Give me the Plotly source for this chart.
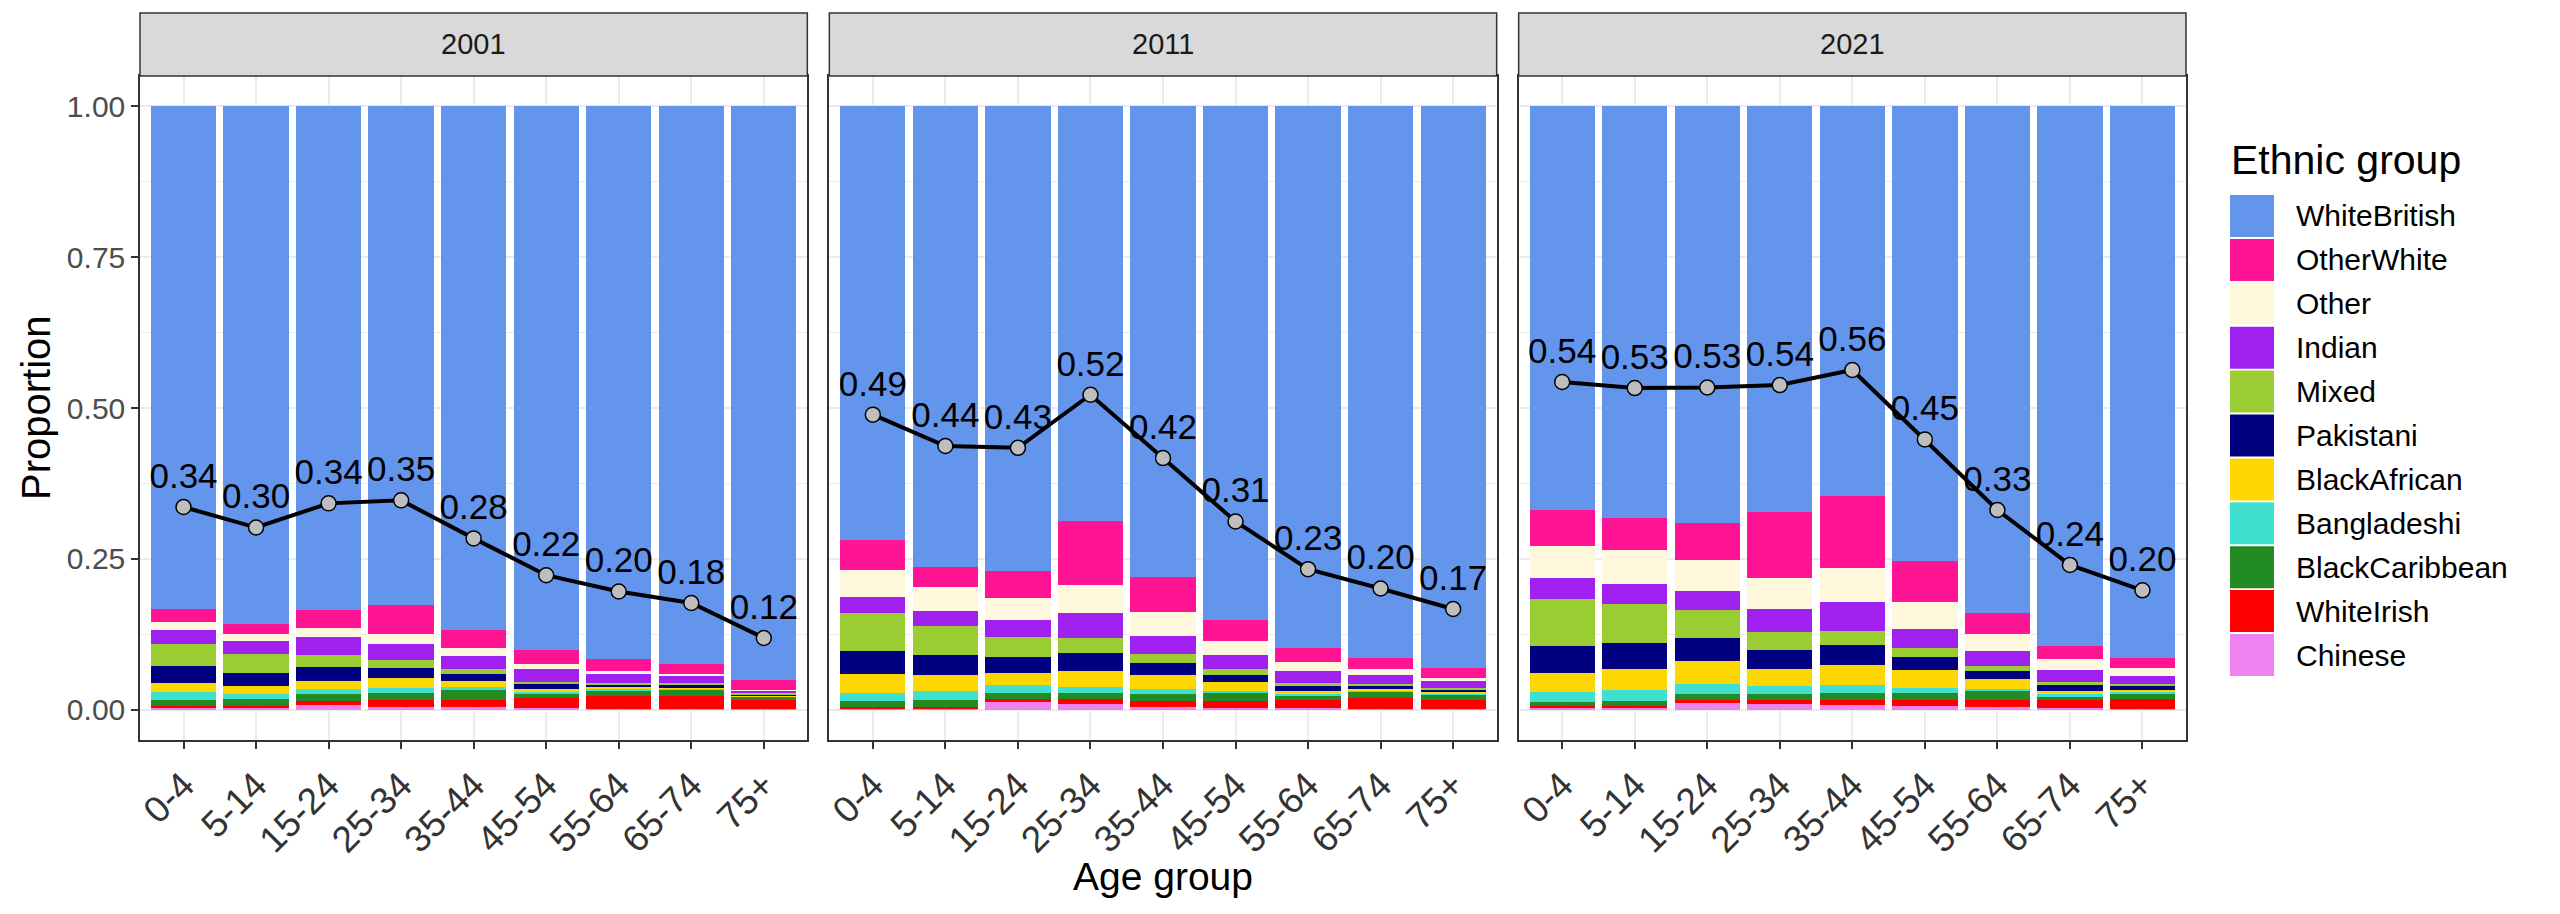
import plotly.graph_objects as go
from plotly.subplots import make_subplots

# ---------------- data ----------------
AGE_GROUPS = ["0-4", "5-14", "15-24", "25-34", "35-44", "45-54", "55-64", "65-74", "75+"]
YEARS = ["2001", "2011", "2021"]
GROUPS = ["WhiteBritish", "OtherWhite", "Other", "Indian", "Mixed", "Pakistani",
          "BlackAfrican", "Bangladeshi", "BlackCaribbean", "WhiteIrish", "Chinese"]
COLORS = ["#6495ED", "#FF1493", "#FFF8DC", "#A020F0", "#9ACD32", "#000080",
          "#FFD700", "#40E0D0", "#228B22", "#FF0000", "#EE82EE"]

# 2001
white_british_2001 = [0.834, 0.857, 0.834, 0.827, 0.868, 0.901, 0.916, 0.924, 0.951]
other_white_2001 = [0.0204, 0.0166, 0.031, 0.0475, 0.0298, 0.0232, 0.0204, 0.016, 0.016]
other_2001 = [0.0143, 0.0116, 0.0149, 0.0171, 0.0138, 0.0088, 0.005, 0.0033, 0.0017]
indian_2001 = [0.022, 0.0226, 0.029, 0.026, 0.0215, 0.021, 0.0138, 0.011, 0.0044]
mixed_2001 = [0.0375, 0.0304, 0.0193, 0.0127, 0.0083, 0.0039, 0.0022, 0.0028, 0.0017]
pakistani_2001 = [0.0276, 0.022, 0.0243, 0.0177, 0.0105, 0.0077, 0.005, 0.0055, 0.0022]
black_african_2001 = [0.0155, 0.0132, 0.0132, 0.0155, 0.011, 0.0061, 0.0028, 0.0017, 0.0011]
bangladeshi_2001 = [0.0121, 0.0088, 0.0088, 0.0083, 0.0044, 0.0017, 0.0022, 0.0011, 0.0006]
black_caribbean_2001 = [0.0099, 0.011, 0.0116, 0.0116, 0.0166, 0.0083, 0.0094, 0.011, 0.0044]
white_irish_2001 = [0.0039, 0.0033, 0.0066, 0.0121, 0.0121, 0.0155, 0.0215, 0.022, 0.016]
chinese_2001 = [0.003, 0.0033, 0.0072, 0.0044, 0.0044, 0.0033, 0.0017, 0.0011, 0.0011]
diversity_2001 = [0.336, 0.302, 0.342, 0.347, 0.284, 0.223, 0.196, 0.177, 0.119]

# 2011
white_british_2011 = [0.719, 0.764, 0.770, 0.687, 0.779, 0.852, 0.898, 0.914, 0.931]
other_white_2011 = [0.0486, 0.0331, 0.0447, 0.106, 0.0585, 0.0337, 0.0232, 0.0182, 0.0166]
other_2011 = [0.0447, 0.0397, 0.0353, 0.0464, 0.0392, 0.0237, 0.0149, 0.0088, 0.0055]
indian_2011 = [0.0281, 0.0237, 0.0281, 0.0419, 0.0298, 0.0226, 0.0199, 0.0155, 0.011]
mixed_2011 = [0.0629, 0.048, 0.0337, 0.0237, 0.0155, 0.0105, 0.005, 0.0033, 0.0022]
pakistani_2011 = [0.037, 0.0342, 0.0259, 0.0309, 0.0204, 0.011, 0.0083, 0.0055, 0.005]
black_african_2011 = [0.0315, 0.027, 0.021, 0.0254, 0.0232, 0.016, 0.0033, 0.0022, 0.0011]
bangladeshi_2011 = [0.0138, 0.0149, 0.0127, 0.011, 0.0083, 0.0022, 0.0044, 0.0022, 0.0017]
black_caribbean_2011 = [0.0094, 0.0105, 0.0099, 0.0099, 0.0116, 0.0138, 0.0077, 0.011, 0.0094]
white_irish_2011 = [0.0028, 0.0028, 0.005, 0.0083, 0.0099, 0.0116, 0.0127, 0.0171, 0.0155]
chinese_2011 = [0.0022, 0.0022, 0.0132, 0.0094, 0.0044, 0.0033, 0.0028, 0.0017, 0.0011]
diversity_2011 = [0.489, 0.437, 0.434, 0.522, 0.417, 0.312, 0.233, 0.201, 0.167]

# 2021
white_british_2021 = [0.669, 0.682, 0.690, 0.671, 0.646, 0.754, 0.839, 0.893, 0.914]
other_white_2021 = [0.059, 0.0524, 0.0618, 0.110, 0.119, 0.0668, 0.0359, 0.0215, 0.0166]
other_2021 = [0.0541, 0.0568, 0.0524, 0.0513, 0.0568, 0.0453, 0.0281, 0.0182, 0.0127]
indian_2021 = [0.0342, 0.0331, 0.0315, 0.0375, 0.0469, 0.0309, 0.0237, 0.0215, 0.0138]
mixed_2021 = [0.0778, 0.0646, 0.0464, 0.0309, 0.0232, 0.0155, 0.0094, 0.005, 0.0033]
pakistani_2021 = [0.0447, 0.043, 0.037, 0.0309, 0.0342, 0.0215, 0.0127, 0.0088, 0.0061]
black_african_2021 = [0.0315, 0.0353, 0.0381, 0.0287, 0.032, 0.0292, 0.016, 0.0061, 0.0028]
bangladeshi_2021 = [0.0171, 0.0171, 0.0166, 0.0127, 0.0143, 0.0083, 0.0039, 0.0028, 0.0028]
black_caribbean_2021 = [0.0066, 0.0088, 0.0099, 0.0099, 0.011, 0.0121, 0.0149, 0.0061, 0.0099]
white_irish_2021 = [0.0028, 0.0022, 0.005, 0.0072, 0.0083, 0.0099, 0.0121, 0.0132, 0.0166]
chinese_2021 = [0.0033, 0.0044, 0.0116, 0.0094, 0.0083, 0.0066, 0.0044, 0.0033, 0.0011]
diversity_2021 = [0.543, 0.533, 0.534, 0.538, 0.563, 0.448, 0.331, 0.240, 0.198]

Y_TICKS = [0, 0.25, 0.5, 0.75, 1.0]
Y_TICK_LABELS = ["0.00", "0.25", "0.50", "0.75", "1.00"]

series = {
    "2001": [white_british_2001, other_white_2001, other_2001, indian_2001, mixed_2001,
             pakistani_2001, black_african_2001, bangladeshi_2001, black_caribbean_2001,
             white_irish_2001, chinese_2001],
    "2011": [white_british_2011, other_white_2011, other_2011, indian_2011, mixed_2011,
             pakistani_2011, black_african_2011, bangladeshi_2011, black_caribbean_2011,
             white_irish_2011, chinese_2011],
    "2021": [white_british_2021, other_white_2021, other_2021, indian_2021, mixed_2021,
             pakistani_2021, black_african_2021, bangladeshi_2021, black_caribbean_2021,
             white_irish_2021, chinese_2021],
}
diversity = {"2001": diversity_2001, "2011": diversity_2011, "2021": diversity_2021}

# ---------------- layout geometry (pixels) ----------------
W, H = 2544, 898
ML, MR, MT, MB = 132, 366, 68, 166
PW = W - ML - MR
PH = H - MT - MB
FONT = "Liberation Sans, Arial, Helvetica, sans-serif"
GAP = 22 / PW


def px_x(px):
    return (px - ML) / PW


def px_y(py):
    return 1 - (py - MT) / PH


fig = make_subplots(rows=1, cols=3, horizontal_spacing=GAP, shared_yaxes=True)

for c, year in enumerate(YEARS, start=1):
    vals = series[year]
    # draw bottom first: reversed legend order
    for gi in reversed(range(len(GROUPS))):
        fig.add_trace(go.Bar(
            x=AGE_GROUPS, y=vals[gi], name=GROUPS[gi],
            marker=dict(color=COLORS[gi], line=dict(width=0)),
            showlegend=False, hoverinfo="x+y+name"),
            row=1, col=c)
    fig.add_trace(go.Scatter(
        x=AGE_GROUPS, y=diversity[year], mode="lines+markers+text",
        text=[f"{v:.2f}" for v in diversity[year]], textposition="top center",
        textfont=dict(size=35, color="black", family=FONT),
        line=dict(color="black", width=4),
        marker=dict(size=15, color="#BEBEBE", line=dict(color="black", width=1.5)),
        cliponaxis=False, showlegend=False, hoverinfo="x+y"),
        row=1, col=c)

fig.update_layout(
    width=W, height=H, barmode="stack", bargap=0.1,
    margin=dict(l=ML, r=MR, t=MT, b=MB, pad=0),
    paper_bgcolor="white", plot_bgcolor="white",
    font=dict(family=FONT, color="#4D4D4D"),
    showlegend=False,
)

for c in range(1, 4):
    fig.update_xaxes(
        type="category", categoryorder="array", categoryarray=AGE_GROUPS,
        range=[-0.6, 8.6], showgrid=True, gridcolor="#EBEBEB", gridwidth=2,
        showline=True, mirror=True, linecolor="#333333", linewidth=1.5,
        ticks="outside", ticklen=7, tickcolor="#333333", tickwidth=1.5,
        tickangle=-45, tickfont=dict(size=37, color="#333333"),
        zeroline=False, row=1, col=c)
    fig.update_yaxes(
        range=[-0.05, 1.05], tickvals=Y_TICKS, ticktext=Y_TICK_LABELS,
        showgrid=True, gridcolor="#EBEBEB", gridwidth=2,
        minor=dict(tickvals=[0.125, 0.375, 0.625, 0.875], showgrid=True,
                   gridcolor="#EBEBEB", gridwidth=1, ticks=""),
        showline=True, mirror=True, linecolor="#333333", linewidth=1.5,
        ticks="outside" if c == 1 else "", ticklen=7, tickcolor="#333333", tickwidth=1.5,
        showticklabels=(c == 1),
        tickfont=dict(size=30, color="#4D4D4D"),
        zeroline=False, row=1, col=c)

shapes = []
annotations = []

# facet strips
for c, year in enumerate(YEARS, start=1):
    dom = fig.layout["xaxis" if c == 1 else f"xaxis{c}"].domain
    shapes.append(dict(type="rect", xref="paper", yref="paper",
                       x0=dom[0], x1=dom[1], y0=1.0, y1=px_y(5),
                       fillcolor="#D9D9D9", line=dict(color="#333333", width=1.5)))
    annotations.append(dict(xref="paper", yref="paper", x=(dom[0] + dom[1]) / 2,
                            y=(1.0 + px_y(5)) / 2, text=year, showarrow=False,
                            font=dict(size=29, color="#1A1A1A", family=FONT),
                            xanchor="center", yanchor="middle"))

# axis titles
annotations.append(dict(xref="paper", yref="paper", x=px_x(28), y=px_y(400),
                        text="Proportion", textangle=-90, showarrow=False,
                        font=dict(size=40, color="black", family=FONT),
                        xanchor="center", yanchor="middle"))
annotations.append(dict(xref="paper", yref="paper", x=0.5, y=px_y(869),
                        text="Age group", showarrow=False,
                        font=dict(size=39, color="black", family=FONT),
                        xanchor="center", yanchor="middle"))

# legend (drawn manually to mimic large ggplot keys)
LX0 = 2221
annotations.append(dict(xref="paper", yref="paper", x=px_x(LX0), y=px_y(152),
                        text="Ethnic group", showarrow=False,
                        font=dict(size=41, color="black", family=FONT),
                        xanchor="left", yanchor="middle"))
for i, (g, col) in enumerate(zip(GROUPS, COLORS)):
    cy = 208 + 43.9 * i
    shapes.append(dict(type="rect", xref="paper", yref="paper",
                       x0=px_x(LX0 + 1), x1=px_x(LX0 + 45),
                       y0=px_y(cy + 21), y1=px_y(cy - 21),
                       fillcolor=col, line=dict(width=0)))
    annotations.append(dict(xref="paper", yref="paper", x=px_x(LX0 + 65), y=px_y(cy),
                            text=g, showarrow=False,
                            font=dict(size=30, color="black", family=FONT),
                            xanchor="left", yanchor="middle"))

fig.update_layout(shapes=shapes, annotations=annotations)

fig.write_html("out.html")
